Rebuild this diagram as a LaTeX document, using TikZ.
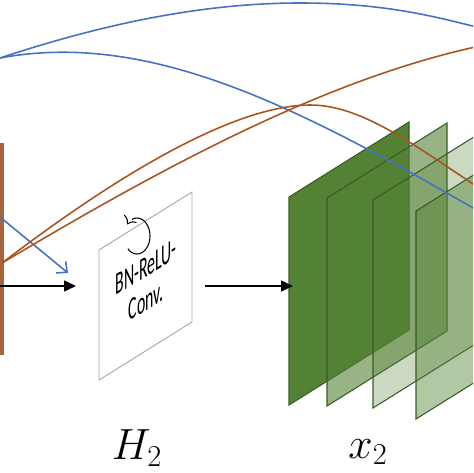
\documentclass[tikz,border=0pt]{standalone}
\usepackage{fontspec}
\newfontfamily\calibri{Carlito}
\usetikzlibrary{arrows.meta,positioning}
\definecolor{skipblue}{RGB}{68,114,196}
\definecolor{skipbrown}{RGB}{170,84,30}
\definecolor{barbrown}{RGB}{165,102,62}
\definecolor{fmgreen}{RGB}{84,130,53}
\definecolor{fmedge}{RGB}{56,92,36}
\definecolor{convgrey}{RGB}{165,165,165}

\begin{document}
\begin{tikzpicture}[x=0.02cm,y=-0.02cm]
\tikzstyle{flow}=[line width=0.9pt,-{Triangle[length=2.4mm,width=2.2mm]}]
\tikzstyle{skipb}=[draw=skipblue,line width=0.9pt]
\tikzstyle{skipo}=[draw=skipbrown,line width=0.9pt]
\tikzstyle{fmap}=[draw=fmedge,line width=0.6pt,fill=fmgreen]
\tikzstyle{lbl}=[font=\fontsize{24}{28}\selectfont]
\useasboundingbox (0,0) rectangle (473,473);
\clip (0,0) rectangle (473,473);

% input map, cut by the border
\fill [barbrown] (-2,143) rectangle (3.5,355);
\coordinate (x1) at (0,286);
\coordinate (bar) at (2,263);
\coordinate (bluein) at (0,58);
\coordinate (blueout) at (0,217);
\coordinate (blueend) at (68,273);

% H_2
\coordinate (hin) at (76,286);
\coordinate (hout) at (205,286);
\coordinate (hc) at (146,284);
\draw [convgrey,fill=white,line width=0.5pt] (99,250) -- (192,192) -- (192,322) -- (99,380) -- cycle;
\node [cm={0.5,0.31,0,1,(0,0)},align=center,inner sep=0pt,font=\calibri\fontsize{18}{19.5}\selectfont] (conv) at (hc) {BN-ReLU-\\Conv.};
\draw [line width=0.6pt] (137,236) ++(-225:13 and 18) arc [start angle=-225,end angle=-450,x radius=13,y radius=18];
\draw [line width=0.6pt,dashed,-{To[length=1.4mm]}] (137,218) arc [start angle=-90,end angle=-140,x radius=13,y radius=18];

% x_2
\coordinate (x2in) at (293,286);
\foreach \dx/\dy/\op in {0/0/1,38/1/0.6,84/3/0.3,127/14/0.45}
  \filldraw [fmap,fill opacity=\op] (289+\dx,197+\dy) -- ++(120,-75) -- ++(0,208) -- ++(-120,75) -- cycle;

\draw [flow] (x1) -- (hin);
\draw [flow] (hout) -- (x2in);
\draw [skipb,-{Straight Barb[length=1.6mm,width=3mm]}] (blueout) -- (blueend);

% skip connections
\coordinate (topend) at (480,28);
\coordinate (midend) at (480,212);
\coordinate (brownend1) at (490,195);
\coordinate (brownend2) at (480,46);
\draw [skipb] (bluein) .. controls (100,25) and (200,3) .. (300,3) .. controls (380,3) and (430,15) .. (topend);
\draw [skipb] (bluein) .. controls (150,30) and (300,108) .. (midend);
\draw [skipo] (bar) .. controls (150,150) and (250,105) .. (310,105) .. controls (365,105) and (420,150) .. (brownend1);
\draw [skipo] (bar) .. controls (150,175) and (320,80) .. (brownend2);

\node [lbl] (h2) at (137,448) {$H_2$};
\node [lbl] (x2) at (368,452) {$x_2$};
\end{tikzpicture}
\end{document}
